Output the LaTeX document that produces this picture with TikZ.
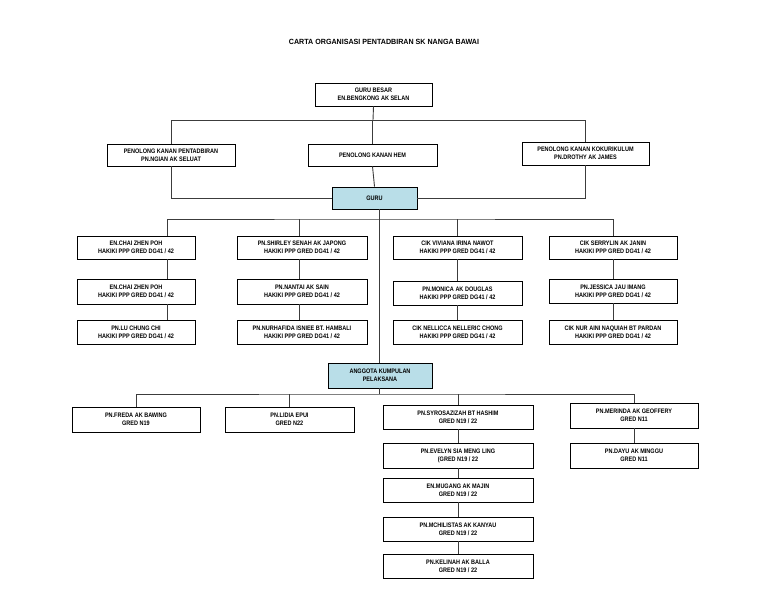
\documentclass[tikz,border=0pt]{standalone}
\usepackage{fontspec}
\setmainfont{Liberation Sans}
\newfontfamily\nar[FakeStretch=0.85]{Liberation Sans}
\newfontfamily\tit[FakeStretch=0.95]{Liberation Sans}
\definecolor{lb}{RGB}{185,222,232}
\definecolor{ln}{RGB}{60,60,60}
\tikzset{
 box/.style={draw=black,line width=0.9pt,inner sep=0pt,align=center,font=\nar\bfseries\fontsize{6.5}{8}\selectfont},
 hi/.style={box,fill=lb},
 con/.style={draw=ln,line width=0.9pt}
}
\newcommand\B[7][box]{\node[#1,minimum width={#5-#3},minimum height={#6-#4}] (#2) at ({(#3+#5)/2},{(#4+#6)/2}) {#7};}
\begin{document}
\begin{tikzpicture}[x=1pt,y=-1pt]
\useasboundingbox (0,0) rectangle (768,594);
\node[font=\tit\bfseries\fontsize{7.5}{9}\selectfont] (title) at (384,42) {CARTA ORGANISASI PENTADBIRAN SK NANGA BAWAI};
\B{gb}{315}{83}{432}{106}{GURU BESAR\\EN.BENGKONG AK SELAN}
\B{pkp}{107}{144}{235}{166}{PENOLONG KANAN PENTADBIRAN\\PN.NGIAN AK SELUAT}
\B{hem}{308}{144}{437}{166}{PENOLONG KANAN HEM}
\B{koku}{522}{142}{649}{165}{PENOLONG KANAN KOKURIKULUM\\PN.DROTHY AK JAMES}
\B[hi]{guru}{332}{187}{417}{209}{GURU}
% teachers
\B{a1}{77}{236}{195}{259}{EN.CHAI ZHEN POH\\HAKIKI PPP GRED DG41 / 42}
\B{a2}{77}{279}{195}{304}{EN.CHAI ZHEN POH\\HAKIKI PPP GRED DG41 / 42}
\B{a3}{77}{320}{195}{344}{PN.LU CHUNG CHI\\HAKIKI PPP GRED DG41 / 42}
\B{b1}{237}{236}{367}{259}{PN.SHIRLEY SENAH AK JAPONG\\HAKIKI PPP GRED DG41 / 42}
\B{b2}{237}{279}{367}{304}{PN.NANTAI AK SAIN\\HAKIKI PPP GRED DG41 / 42}
\B{b3}{237}{320}{367}{344}{PN.NURHAFIDA ISNIEE BT. HAMBALI\\HAKIKI PPP GRED DG41 / 42}
\B{c1}{393}{236}{522}{259}{CIK VIVIANA IRINA NAWOT\\HAKIKI PPP GRED DG41 / 42}
\B{c2}{393}{281}{522}{305}{PN.MONICA AK DOUGLAS\\HAKIKI PPP GRED DG41 / 42}
\B{c3}{393}{320}{522}{344}{CIK NELLICCA NELLERIC CHONG\\HAKIKI PPP GRED DG41 / 42}
\B{d1}{549}{236}{677}{259}{CIK SERRYLIN AK JANIN\\HAKIKI PPP GRED DG41 / 42}
\B{d2}{549}{279}{677}{303}{PN.JESSICA JAU IMANG\\HAKIKI PPP GRED DG41 / 42}
\B{d3}{549}{320}{677}{344}{CIK NUR AINI NAQUIAH BT PARDAN\\HAKIKI PPP GRED DG41 / 42}
\B[hi]{akp}{328}{363}{432}{388}{ANGGOTA KUMPULAN\\PELAKSANA}
% staff
\B{e1}{72}{407}{200}{432}{PN.FREDA AK BAWING\\GRED N19}
\B{f1}{225}{407}{354}{432}{PN.LIDIA EPUI\\GRED N22}
\B{g1}{383}{405}{533}{429}{PN.SYROSAZIZAH BT HASHIM\\GRED N19 / 22}
\B{g2}{383}{443}{533}{468}{PN.EVELYN SIA MENG LING\\(GRED N19 / 22}
\B{g3}{383}{478}{533}{502}{EN.MUGANG AK MAJIN\\GRED N19 / 22}
\B{g4}{383}{517}{533}{541}{PN.MCHILISTAS AK KANYAU\\GRED N19 / 22}
\B{g5}{383}{554}{533}{578}{PN.KELINAH AK BALLA\\GRED N19 / 22}
\B{h1}{570}{403}{698}{428}{PN.MERINDA AK GEOFFERY\\GRED N11}
\B{h2}{570}{443}{698}{468}{PN.DAYU AK MINGGU\\GRED N11}
% connectors
\coordinate (bus1) at (373,120);
\coordinate (bus2) at (379,219);
\coordinate (bus3) at (379,394);
\draw[con] (gb.south) -- (bus1);
\draw[con] (pkp.north) -- (pkp.north|-bus1) -| (koku.north);
\draw[con] (hem.north) -- (hem.north|-bus1);
\draw[con] (hem.south) -- (guru.north);
\draw[con] (pkp.south) |- (guru.west);
\draw[con] (koku.south) |- (guru.east);
\draw[con] (a1.north-|167,0) |- (bus2) -| (d1.north);
\draw[con] (a1.south-|167,0) -- (a2.north-|167,0);
\draw[con] (a2.south-|167,0) -- (a3.north-|167,0);
\draw[con] (b1.north-|299,0) -- (bus2-|299,0);
\draw[con] (b1.south-|299,0) -- (b2.north-|299,0);
\draw[con] (b2.south-|299,0) -- (b3.north-|299,0);
\draw[con] (c1.north) -- (c1.north|-bus2);
\draw[con] (c1.south) -- (c2.north);
\draw[con] (c2.south) -- (c3.north);
\draw[con] (d1.south) -- (d2.north);
\draw[con] (d2.south) -- (d3.north);
\draw[con] (guru.south-|bus2) -- (akp.north-|bus2);
\draw[con] (akp.south-|bus3) -- (bus3);
\draw[con] (e1.north) |- (bus3) -| (h1.north);
\draw[con] (f1.north) -- (f1.north|-bus3);
\draw[con] (g1.north) -- (g1.north|-bus3);
\draw[con] (g1.south) -- (g2.north);
\draw[con] (g2.south) -- (g3.north);
\draw[con] (g3.south) -- (g4.north);
\draw[con] (g4.south) -- (g5.north);
\draw[con] (h1.south) -- (h2.north);
\end{tikzpicture}
\end{document}
